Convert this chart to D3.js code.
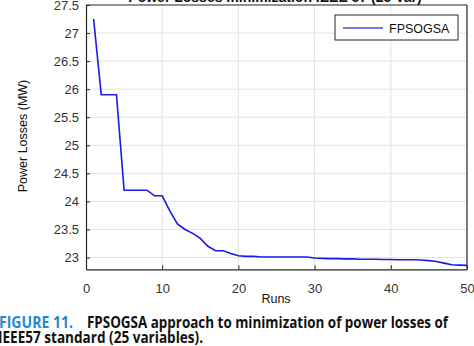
<!DOCTYPE html>
<html><head><meta charset="utf-8">
<script src="https://cdn.jsdelivr.net/npm/d3@7"></script>
<style>body{margin:0;background:#fff;}svg{display:block;}</style>
</head><body>
<script>
const runs = d3.range(1, 51);
const losses = [27.25,25.9,25.9,25.9,24.2,24.2,24.2,24.2,24.1,24.1,
  23.83,23.6,23.5,23.43,23.34,23.2,23.12,23.12,23.07,23.03,
  23.02,23.02,23.01,23.01,23.01,23.01,23.01,23.01,23.01,22.99,
  22.985,22.98,22.98,22.975,22.975,22.97,22.97,22.97,22.965,22.965,
  22.96,22.96,22.96,22.955,22.945,22.93,22.9,22.87,22.865,22.86];
const xTicks = [0,10,20,30,40,50];
const yTicks = [23,23.5,24,24.5,25,25.5,26,26.5,27,27.5];
const seriesName = "FPSOGSA";
const titleText = "Power Losses minimization IEEE 57 (25 Var)";

const W=474,H=346;
const svg=d3.select("body").append("svg").attr("width",W).attr("height",H);
const x=d3.scaleLinear().domain([0,50]).range([86,467]);
const y=d3.scaleLinear().domain([22.79,27.5]).range([269.3,5]);
const font="Liberation Sans, Arial, sans-serif";

// grid
svg.append("g").selectAll("line").data(xTicks.slice(1,-1)).join("line")
  .attr("x1",d=>x(d)).attr("x2",d=>x(d)).attr("y1",y.range()[0]).attr("y2",y.range()[1])
  .attr("stroke","#e2e2e2").attr("stroke-width",1);
svg.append("g").selectAll("line").data(yTicks.slice(0,-1)).join("line")
  .attr("y1",d=>y(d)).attr("y2",d=>y(d)).attr("x1",x.range()[0]).attr("x2",x.range()[1])
  .attr("stroke","#e2e2e2").attr("stroke-width",1);

// axes
const xAx=svg.append("g").attr("transform",`translate(0,${y.range()[0]})`)
  .call(d3.axisBottom(x).tickValues(xTicks).tickSize(-4).tickPadding(14).tickSizeOuter(0));
const yAx=svg.append("g").attr("transform",`translate(${x.range()[0]},0)`)
  .call(d3.axisLeft(y).tickValues(yTicks).tickFormat(d3.format("")).tickSize(-4).tickPadding(7).tickSizeOuter(0));
[xAx,yAx].forEach(g=>{
  g.select(".domain").attr("stroke","#262626").attr("stroke-width",1.2);
  g.selectAll(".tick line").attr("stroke","#262626");
  g.selectAll("text").attr("font-family",font).attr("font-size",13).attr("fill","#333");
});
// top/right box
svg.append("line").attr("x1",x.range()[0]).attr("x2",x.range()[1]).attr("y1",y.range()[1]).attr("y2",y.range()[1]).attr("stroke","#262626").attr("stroke-width",1.2);
svg.append("line").attr("x1",x.range()[1]).attr("x2",x.range()[1]).attr("y1",y.range()[1]).attr("y2",y.range()[0]).attr("stroke","#262626").attr("stroke-width",1.2);

// line
svg.append("path").datum(runs.map((r,i)=>[r,losses[i]]))
  .attr("fill","none").attr("stroke","#1a1ae6").attr("stroke-width",1.6)
  .attr("d",d3.line().x(d=>x(d[0])).y(d=>y(d[1])));

// title (clipped at top, as in the reference)
svg.append("text").attr("x",275).attr("y",1.5).attr("text-anchor","middle")
  .attr("font-family",font).attr("font-weight","bold").attr("font-size",14).attr("fill","#111").text(titleText);

// legend
svg.append("rect").attr("x",335).attr("y",15).attr("width",123).attr("height",25)
  .attr("fill","#fff").attr("stroke","#262626").attr("stroke-width",1);
svg.append("line").attr("x1",343).attr("x2",383).attr("y1",28).attr("y2",28).attr("stroke","#4a4ae6").attr("stroke-width",1.4);
svg.append("text").attr("x",389).attr("y",32.5).attr("font-family",font).attr("font-size",12.5).attr("fill","#111").text(seriesName);

// axis labels
svg.append("text").attr("x",276).attr("y",303).attr("text-anchor","middle")
  .attr("font-family",font).attr("font-size",12.5).attr("fill","#111").text("Runs");
svg.append("text").attr("transform","translate(27,136) rotate(-90)").attr("text-anchor","middle")
  .attr("font-family",font).attr("font-size",12.5).attr("fill","#111").text("Power Losses (MW)");

// caption
const cf="Open Sans, Noto Sans, sans-serif";
svg.append("text").attr("x",-1).attr("y",327.5).attr("font-family",cf).attr("font-weight","bold").attr("font-size",15.5)
  .attr("fill","#1f8ad2").attr("textLength",74).attr("lengthAdjust","spacingAndGlyphs").text("FIGURE 11.");
svg.append("text").attr("x",87).attr("y",327.5).attr("font-family",cf).attr("font-weight","bold").attr("font-size",15.5)
  .attr("fill","#111").attr("textLength",361).attr("lengthAdjust","spacingAndGlyphs").text("FPSOGSA approach to minimization of power losses of");
svg.append("text").attr("x",-2).attr("y",342.5).attr("font-family",cf).attr("font-weight","bold").attr("font-size",15.5)
  .attr("fill","#111").attr("textLength",205).attr("lengthAdjust","spacingAndGlyphs").text("IEEE57 standard (25 variables).");
</script>
</body></html>
